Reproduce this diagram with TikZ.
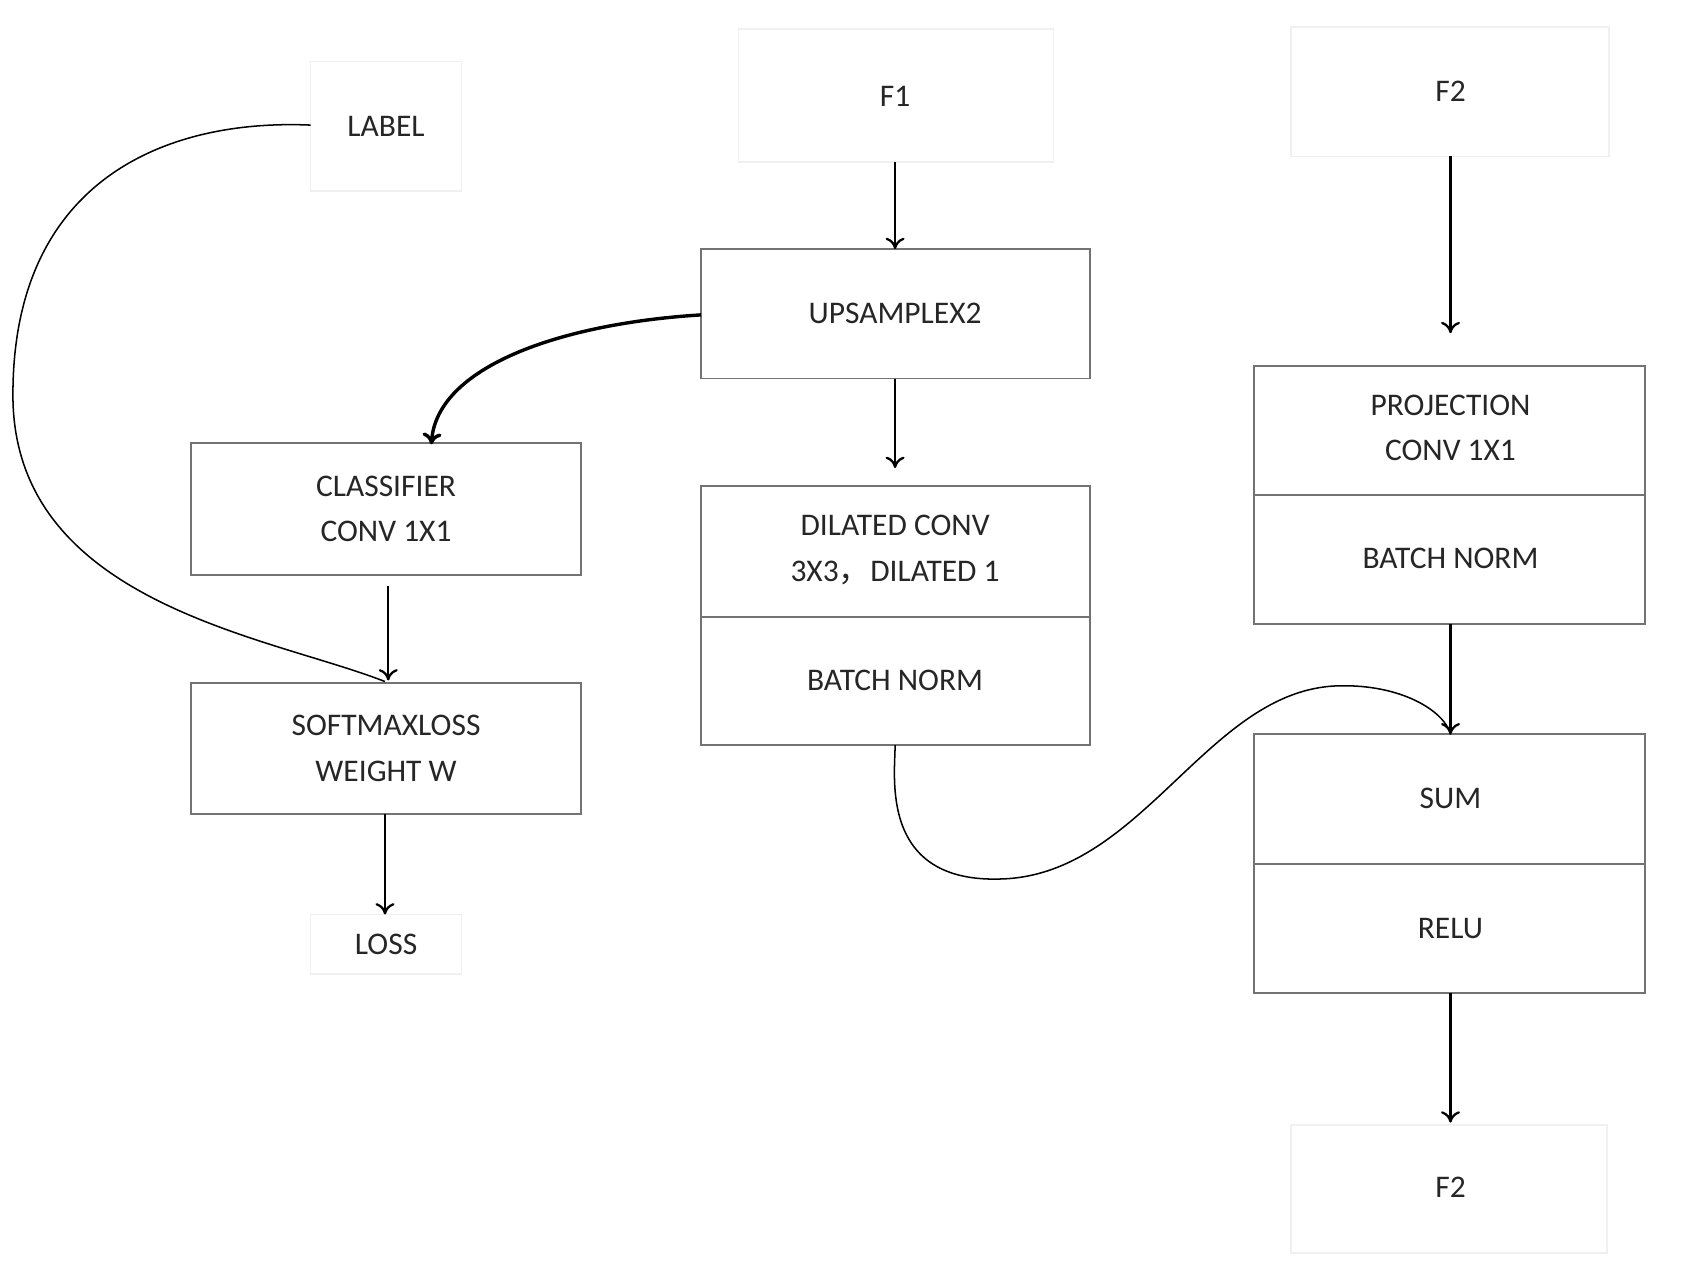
\documentclass[tikz,border=0pt]{standalone}
\usepackage{fontspec}
\setmainfont{Carlito}
\newfontfamily\cjk{Noto Sans CJK SC}
\usetikzlibrary{arrows.meta}
\begin{document}
\begin{tikzpicture}[x=0.01cm,y=-0.01cm,
  box/.style={draw=black!55,line width=0.5pt},
  faint/.style={draw=black!6,line width=0.4pt},
  txt/.style={font=\fontsize{8.3}{11}\selectfont,text=black!85,align=center},
  arr/.style={-{To[length=3pt,width=5pt]},line width=0.6pt}]
\useasboundingbox (0,0) rectangle (1568,1189);
\fill[white] (0,0) rectangle (1568,1189);
% faint boxes
\draw[faint] (288,57) rectangle (428,177); \node[txt] (label) at (358,117) {LABEL};
\draw[faint] (685,27) rectangle (977,150); \node[txt] (f1) at (830,89) {F1};
\draw[faint] (1197,25) rectangle (1492,145); \node[txt] (f2a) at (1345,85) {F2};
\draw[faint] (288,848) rectangle (428,903); \node[txt] (loss) at (358,876) {LOSS};
\draw[faint] (1197,1043) rectangle (1490,1162); \node[txt] (f2b) at (1345,1101) {F2};
% boxes
\draw[box] (650,231) rectangle (1011,351); \node[txt] (up) at (830,291) {UPSAMPLEX2};
\draw[box] (177,411) rectangle (539,533); \node[txt] (cls) at (358,472) {CLASSIFIER\\[1pt]CONV 1X1};
\draw[box] (177,633) rectangle (539,755); \node[txt] (sm) at (358,694) {SOFTMAXLOSS\\[1pt]WEIGHT W};
\draw[box] (650,451) rectangle (1011,691); \draw[box] (650,572) -- (1011,572);
\node[txt] (dil) at (830,510) {DILATED CONV\\[1pt]3X3{\cjk ，}DILATED 1};
\node[txt] (bn1) at (830,631) {BATCH NORM};
\draw[box] (1163,339) rectangle (1525,579); \draw[box] (1163,459) -- (1525,459);
\node[txt] (proj) at (1345,397) {PROJECTION\\[1pt]CONV 1X1};
\node[txt] (bn2) at (1345,518) {BATCH NORM};
\draw[box] (1163,681) rectangle (1525,921); \draw[box] (1163,801) -- (1525,801);
\node[txt] (sum) at (1345,740) {SUM};
\node[txt] (relu) at (1345,861) {RELU};
% coordinates
\coordinate (a1) at (830,150); \coordinate (a2) at (830,231);
\coordinate (b1) at (830,351); \coordinate (b2) at (830,434);
\coordinate (c1) at (1345,145); \coordinate (c2) at (1345,309);
\coordinate (d1) at (1345,579); \coordinate (d2) at (1345,681);
\coordinate (e1) at (1345,921); \coordinate (e2) at (1345,1041);
\coordinate (g1) at (360,543); \coordinate (g2) at (360,631);
\coordinate (h1) at (357,755); \coordinate (h2) at (357,848);
\coordinate (u1) at (650,292); \coordinate (u2) at (400,412);
\coordinate (l1) at (288,116); \coordinate (l2) at (357,632);
\coordinate (s1) at (830,691);
\draw[arr] (a1) -- (a2);
\draw[arr] (b1) -- (b2);
\draw[arr] (c1) -- (c2);
\draw[arr] (d1) -- (d2);
\draw[arr] (e1) -- (e2);
\draw[arr] (g1) -- (g2);
\draw[arr] (h1) -- (h2);
\draw[arr,line width=0.9pt] (u1) .. controls (520,300) and (405,340) .. (u2);
\draw[line width=0.4pt] (l1) .. controls (150,110) and (10,170) .. (12,370)
  .. controls (15,560) and (250,590) .. (l2);
\draw[line width=0.4pt] (s1) .. controls (830,720) and (815,820) .. (930,815)
  .. controls (1060,810) and (1120,640) .. (1240,636)
  .. controls (1300,634) and (1340,660) .. (d2);
\end{tikzpicture}
\end{document}
